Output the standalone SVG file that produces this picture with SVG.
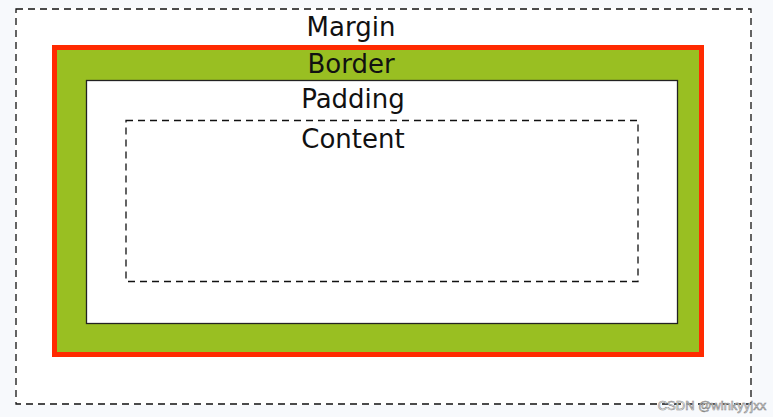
<svg xmlns="http://www.w3.org/2000/svg" width="773" height="417" viewBox="0 0 773 417">
<style>
.lbl{font-family:"DejaVu Sans",Verdana,sans-serif;font-size:26px;fill:#111;text-anchor:middle}
.dash{fill:none;stroke:#111;stroke-width:1.3;stroke-dasharray:7,5}
</style>
<rect width="773" height="417" fill="#f7f9fc"/>
<rect x="15" y="8" width="737" height="397" fill="#fff"/>
<g id="margin"><rect class="dash" x="16" y="9" width="735" height="395"/><text class="lbl" x="351" y="36">Margin</text></g>
<g id="border"><rect x="54.5" y="47.5" width="647" height="307" fill="#99bf22" stroke="#ff2a00" stroke-width="5"/><text class="lbl" x="351" y="73">Border</text></g>
<g id="padding"><rect x="86.5" y="80.5" width="591" height="243" fill="#fff" stroke="#222" stroke-width="1.3"/><text class="lbl" x="353" y="108">Padding</text></g>
<g id="content"><rect class="dash" x="126" y="120.5" width="512" height="161"/><text class="lbl" x="353" y="148">Content</text></g>
<g id="connectors"/>
<text x="712" y="410" font-family="Liberation Sans,Arial,sans-serif" font-size="13" fill="#fff" stroke="#888" stroke-width="0.6" text-anchor="middle">CSDN @winkyyjxx</text>
</svg>
